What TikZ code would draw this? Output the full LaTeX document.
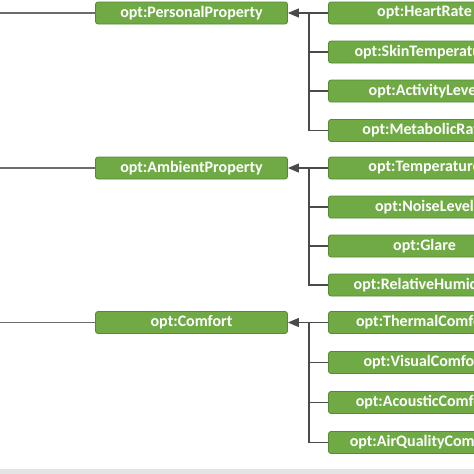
\documentclass[tikz,border=0pt]{standalone}
\usepackage{fontspec}
\setmainfont{Carlito}
\usetikzlibrary{arrows.meta}
\definecolor{boxgreen}{HTML}{6FAA45}
\definecolor{boxedge}{HTML}{558A33}
\definecolor{linegray}{HTML}{4A4A4A}
\definecolor{stripgray}{HTML}{E4E4E4}
\tikzset{
  cls/.style={draw=boxedge, line width=0.8pt, fill=boxgreen, rounded corners=2.5pt,
    minimum width=192pt, minimum height=22pt, inner sep=0pt, text=white,
    font=\fontsize{16}{18}\selectfont\bfseries},
  conn/.style={draw=linegray, line width=1.2pt},
  lead/.style={draw=gray!85!black, line width=1.1pt},
  isa/.style={conn, -{Triangle[length=11pt,width=9pt]}}
}
\begin{document}
\begin{tikzpicture}[x=1pt,y=-1pt]
\useasboundingbox (0,0) rectangle (474,474);
\clip (0,0) rectangle (474,474);
\fill[stripgray] (0,469) rectangle (474,474);
% parents
\node[cls] (p1) at (191.5,13) {opt:PersonalProperty};
\node[cls] (p2) at (191.5,168) {opt:AmbientProperty};
\node[cls] (p3) at (191.5,322.5) {opt:Comfort};
% left leads
\coordinate (l1) at (0,13);
\coordinate (l2) at (0,168);
\coordinate (l3) at (0,322.5);
\draw[lead] (l1) -- (p1.west);
\draw[lead] (l2) -- (p2.west);
\draw[lead] (l3) -- (p3.west);
% children group 1
\node[cls] (a1) at (424.5,13) {opt:HeartRate};
\node[cls] (a2) at (424.5,52) {opt:SkinTemperature};
\node[cls] (a3) at (424.5,91) {opt:ActivityLevel};
\node[cls] (a4) at (424.5,130.5) {opt:MetabolicRate};
% children group 2
\node[cls] (b1) at (424.5,168) {opt:Temperature};
\node[cls] (b2) at (424.5,207) {opt:NoiseLevel};
\node[cls] (b3) at (424.5,246) {opt:Glare};
\node[cls] (b4) at (424.5,285) {opt:RelativeHumidity};
% children group 3
\node[cls] (c1) at (424.5,322.5) {opt:ThermalComfort};
\node[cls] (c2) at (424.5,362.5) {opt:VisualComfort};
\node[cls] (c3) at (424.5,402.5) {opt:AcousticComfort};
\node[cls] (c4) at (424.5,442.5) {opt:AirQualityComfort};
% junctions
\coordinate (j1) at (309,13);
\coordinate (j2) at (309,168);
\coordinate (j3) at (309,322.5);
% connectors
\draw[isa] (a1.west) -- (p1.east);
\draw[conn] (a2.west) -| (j1);
\draw[conn] (a3.west) -| (j1);
\draw[conn] (a4.west) -| (j1);
\draw[isa] (b1.west) -- (p2.east);
\draw[conn] (b2.west) -| (j2);
\draw[conn] (b3.west) -| (j2);
\draw[conn] (b4.west) -| (j2);
\draw[isa] (c1.west) -- (p3.east);
\draw[conn] (c2.west) -| (j3);
\draw[conn] (c3.west) -| (j3);
\draw[conn] (c4.west) -| (j3);
\end{tikzpicture}
\end{document}
